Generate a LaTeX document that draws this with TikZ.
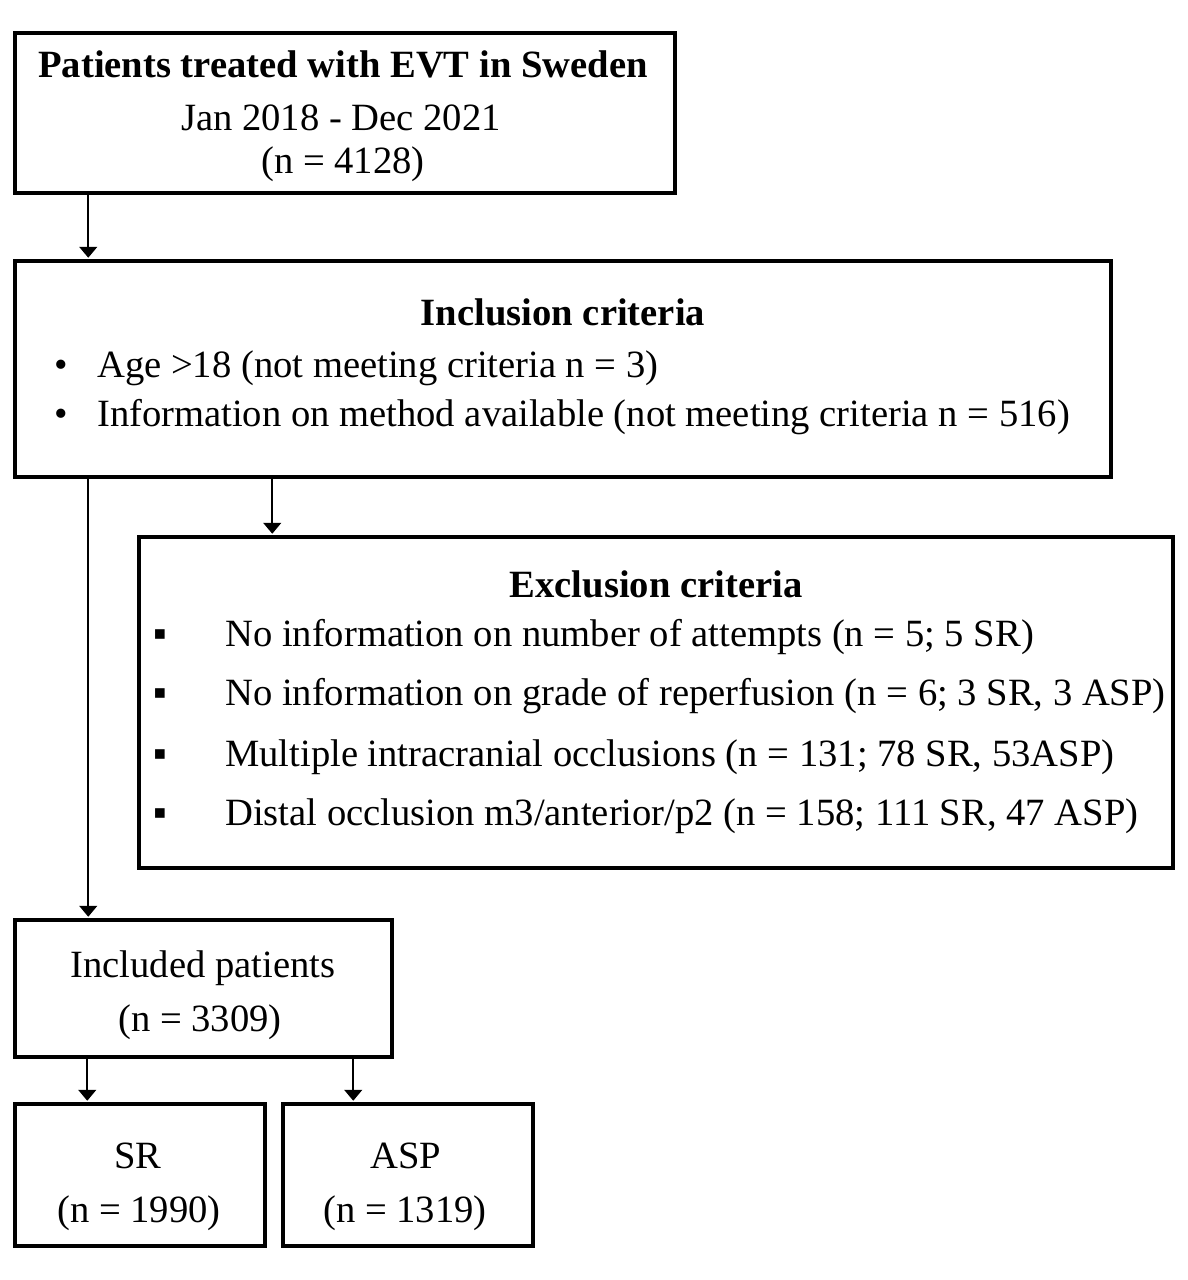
\documentclass[tikz,border=0pt]{standalone}
\usepackage{fontspec}
\setmainfont{Liberation Serif}
\usetikzlibrary{arrows.meta}

\tikzset{
  box/.style={draw, line width=3.5pt, inner sep=0pt},
  txt/.style={anchor=base, inner sep=0pt, font=\fontsize{38.6}{44}\selectfont},
  head/.style={txt, font=\fontsize{38.6}{44}\selectfont\bfseries},
  arr/.style={line width=1.6pt, shorten >=1.5pt, -{Triangle[width=18pt,length=11pt]}}
}

\begin{document}
\begin{tikzpicture}[x=1pt, y=-1pt]
  \useasboundingbox (0,0) rectangle (1188,1280);
  % cohort
  \node[box, minimum width=660pt, minimum height=160pt] (evt) at (345,113) {};
  \node[head] (evtT) at (343,77) {Patients treated with EVT in Sweden};
  \node[txt] (evtD) at (341,130) {Jan 2018 - Dec 2021};
  \node[txt] (evtN) at (343,173) {(n = 4128)};
  % inclusion
  \node[box, minimum width=1096pt, minimum height=216pt] (incl) at (563,369) {};
  \node[head] (inclT) at (563,325) {Inclusion criteria};
  \node[txt] (inclB1) at (61,377) {•};
  \node[txt, anchor=base west] (inclA) at (97,377) {Age >18 (not meeting criteria n = 3)};
  \node[txt] (inclB2) at (61,426) {•};
  \node[txt, anchor=base west] (inclB) at (97,426) {Information on method available (not meeting criteria n = 516)};
  % exclusion
  \node[box, minimum width=1034pt, minimum height=331pt] (excl) at (656,702.5) {};
  \node[head] (exclT) at (656,597) {Exclusion criteria};
  \node[txt] (exclB1) at (160,646) {▪};
  \node[txt, anchor=base west] (exclA) at (225,646) {No information on number of attempts (n = 5; 5 SR)};
  \node[txt] (exclB2) at (160,705) {▪};
  \node[txt, anchor=base west] (exclB) at (225,705) {No information on grade of reperfusion (n = 6; 3 SR, 3 ASP)};
  \node[txt] (exclB3) at (160,766) {▪};
  \node[txt, anchor=base west] (exclC) at (225,766) {Multiple intracranial occlusions (n = 131; 78 SR, 53ASP)};
  \node[txt] (exclB4) at (160,825) {▪};
  \node[txt, anchor=base west] (exclD) at (225,825) {Distal occlusion m3/anterior/p2 (n = 158; 111 SR, 47 ASP)};
  % included and groups
  \node[box, minimum width=377pt, minimum height=137pt] (incpat) at (203.5,988.5) {};
  \node[txt] (incpatT) at (203,977) {Included patients};
  \node[txt] (incpatN) at (200,1031) {(n = 3309)};
  \node[box, minimum width=250pt, minimum height=142pt] (sr) at (140,1175) {};
  \node[txt] (srT) at (138,1168) {SR};
  \node[txt] (srN) at (139,1222) {(n = 1990)};
  \node[box, minimum width=250pt, minimum height=142pt] (asp) at (408,1175) {};
  \node[txt] (aspT) at (406,1168) {ASP};
  \node[txt] (aspN) at (405,1222) {(n = 1319)};
  % arrows
  \draw[arr] ([xshift=75pt]evt.south west) -- ([xshift=75pt]incl.north west);
  \draw[arr] ([xshift=259pt]incl.south west) -- ([xshift=135pt]excl.north west);
  \draw[arr] ([xshift=75pt]incl.south west) -- ([xshift=75pt]incpat.north west);
  \draw[arr] ([xshift=74pt]incpat.south west) -- ([xshift=74pt]sr.north west);
  \draw[arr] ([xshift=340pt]incpat.south west) -- ([xshift=72pt]asp.north west);
\end{tikzpicture}
\end{document}
